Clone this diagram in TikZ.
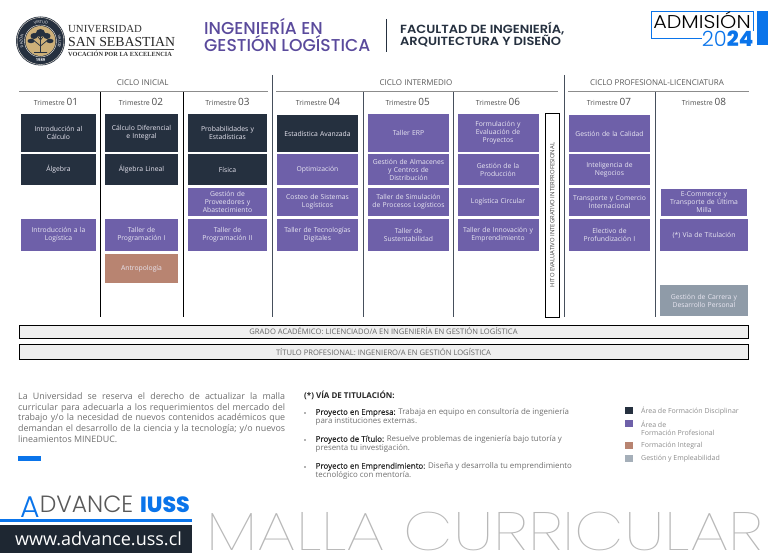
\documentclass[tikz,border=0pt]{standalone}
\usepackage{fontspec}
\setmainfont{Open Sans}
\newfontfamily\thinfont{Poppins Thin}
\newfontfamily\lightfont{Poppins Light}
\newfontfamily\wideLight[FakeStretch=1.12]{Poppins Light}
\newfontfamily\wideThin[FakeStretch=1.19]{Poppins Thin}
\newfontfamily\headfont{Poppins Medium}
\newfontfamily\semifont[FakeStretch=1.1]{Poppins SemiBold}
\newfontfamily\heavyfont{Poppins ExtraBold}
\newfontfamily\medfont[FakeBold=0.3]{Open Sans}
\newfontfamily\uss{Liberation Serif}
\usetikzlibrary{decorations.text}
\definecolor{azulOsc}{HTML}{25303F}
\definecolor{morado}{HTML}{6E60A9}
\definecolor{terra}{HTML}{B88471}
\definecolor{plomo}{HTML}{8F9BA8}
\definecolor{azul}{HTML}{0A74EA}
\definecolor{tituloMor}{HTML}{5A4A9C}
\definecolor{tinta}{HTML}{6F6F6F}
\definecolor{barra}{HTML}{EFEFEF}
\definecolor{oro}{HTML}{CDB079}
\tikzset{
    ramo/.style={inner sep=0pt,align=center,text=white!85!morado,font=\fontsize{6.8}{8}\selectfont},
    disciplinar/.style={ramo,fill=azulOsc},
    profesional/.style={ramo,fill=morado},
    integral/.style={ramo,fill=terra},
    empleo/.style={ramo,fill=plomo},
    c1/.style={text width=75pt},
    c2/.style={text width=73pt},
    c3/.style={text width=79pt},
    c4/.style={text width=81pt},
    c7/.style={text width=81pt},
    c8/.style={text width=88pt},
    f1/.style={minimum height=38pt},
    f2/.style={minimum height=31pt},
    f3/.style={minimum height=28pt},
    f4/.style={minimum height=32pt},
    f5/.style={minimum height=29pt},
    tri/.style={inner sep=0pt,text=black!70,font=\fontsize{7}{8}\selectfont},
    ciclo/.style={inner sep=0pt,text=black!65,font=\fontsize{8}{9}\selectfont},
    grado/.style={draw=black,line width=.8pt,fill=barra,inner sep=0pt,minimum width=729pt,text=black!60,font=\fontsize{7.6}{8}\selectfont},
    cuerpo/.style={inner sep=0pt,anchor=north west,align=left,text=tinta},
    leyenda/.style={inner sep=0pt,anchor=west,align=left,text=black!45,font=\fontsize{7}{8}\selectfont},
    cuadro/.style={inner sep=0pt,minimum width=8pt,minimum height=7pt},
}
\newcommand{\trim}[1]{Trimestre {\fontsize{10}{10}\selectfont #1}}
\begin{document}
\begin{tikzpicture}[x=1pt,y=-1pt]
    \useasboundingbox (0,0) rectangle (768,553);

    % escudo
    \fill[azulOsc] (40.5,41) circle (24.5);
    \draw[white!80!oro,line width=.4pt] (40.5,41) circle (16) (40.5,41) circle (23.5);
    \fill[oro] (40.5,41) circle (15);
    \draw[azulOsc,line width=1.2pt] (40.5,52) -- (40.5,36);
    \draw[azulOsc,line width=.7pt] (40.5,46) -- (32,39) (40.5,46) -- (49,39) (40.5,40) -- (35,33) (40.5,40) -- (46,33) (34,52.5) -- (47,52.5);
    \fill[azulOsc] (40.5,33) ellipse (4.5 and 4) (34,36) ellipse (3.5 and 3) (47,36) ellipse (3.5 and 3) (31,41) ellipse (3.5 and 2.2) (50,41) ellipse (3.5 and 2.2);
    \path[postaction={decorate,decoration={text along path,text align={fit to path stretching spaces},text color=white,text={|\fontsize{3.8}{5}\selectfont|RAZÓN VIRTUD VALOR}}}] (23.6,47.2) arc[start angle=160,end angle=380,radius=18];
    \node[inner sep=0pt,text=white,font=\bfseries\fontsize{4}{5}\selectfont] (anno) at (40.5,60.5) {1989};

    \node[inner sep=0pt,anchor=base west,text=black!80,font=\uss\fontsize{10.8}{11}\selectfont] (unilogo) at (68,33) {UNIVERSIDAD};
    \node[inner sep=0pt,anchor=base west,text=black!85,font=\uss\fontsize{13.8}{14}\selectfont] (sslogo) at (68,46.7) {SAN SEBASTIAN};
    \draw[black!70,line width=.5pt] (68,49.3) -- (174,49.3);
    \node[inner sep=0pt,anchor=west,text=black!80,font=\uss\bfseries\fontsize{6.3}{7}\selectfont] (lema) at (68,54.3) {VOCACIÓN POR LA EXCELENCIA};

    % cabecera
    \node[inner sep=0pt,anchor=west,align=left,text=tituloMor,font=\headfont\fontsize{17.2}{17.7}\selectfont] (carrera) at (204,35) {INGENIERÍA EN\\GESTIÓN LOGÍSTICA};
    \draw[azulOsc,line width=.7pt] (386.7,19) -- (386.7,52.5);
    \node[inner sep=0pt,anchor=west,align=left,text=azulOsc,font=\semifont\fontsize{11.8}{12.7}\selectfont] (facultad) at (400,34.5) {FACULTAD DE INGENIERÍA,\\ARQUITECTURA Y DISEÑO};

    \draw[azul,line width=.6pt] (702,38.5) -- (651,38.5) -- (651,11.5) -- (753.5,11.5) -- (753.5,31);
    \node[inner sep=0pt,anchor=base,text=black,font=\wideLight\fontsize{18.5}{20}\selectfont] (admision) at (702,28.5) {ADMISIÓN};
    \node[inner sep=0pt,anchor=base east,text=azul,font=\fontsize{21}{21}\selectfont] (anio) at (753.5,47) {{\lightfont 20}{\heavyfont 24}};
    \fill[azul] (757,11) rectangle (768,45);

    % ciclos
    \node[ciclo] (inicial) at (142.7,83) {CICLO INICIAL};
    \node[ciclo] (intermedio) at (416,83) {CICLO INTERMEDIO};
    \node[ciclo] (licenciatura) at (657,83) {CICLO PROFESIONAL-LICENCIATURA};
    \draw[black!45,line width=.5pt] (19,91.5) -- (268,91.5);
    \draw[black!45,line width=.5pt] (276,91.5) -- (558,91.5);
    \draw[black!45,line width=.5pt] (568,91.5) -- (749,91.5);

    \draw[black,line width=.8pt] (100.5,92) -- (100.5,317);
    \draw[black,line width=.8pt] (183.5,92) -- (183.5,317);
    \draw[azulOsc!85,line width=.8pt] (272.5,75) -- (272.5,317);
    \draw[azulOsc!85,line width=.8pt] (363.3,92) -- (363.3,317);
    \draw[azulOsc!85,line width=.8pt] (453.3,92) -- (453.3,317);
    \draw[azulOsc!85,line width=.8pt] (564.3,75) -- (564.3,317);
    \draw[azulOsc!85,line width=.8pt] (655.7,92) -- (655.7,317);

    \node[tri] (t1) at (56,102) {\trim{01}};
    \node[tri] (t2) at (141,102) {\trim{02}};
    \node[tri] (t3) at (227.5,102) {\trim{03}};
    \node[tri] (t4) at (318,102) {\trim{04}};
    \node[tri] (t5) at (407.7,102) {\trim{05}};
    \node[tri] (t6) at (498,102) {\trim{06}};
    \node[tri] (t7) at (609,102) {\trim{07}};
    \node[tri] (t8) at (704,102) {\trim{08}};

    % trimestre 1
    \node[disciplinar,c1,f1] (calculo) at (58.5,133) {Introducción al\\Cálculo};
    \node[disciplinar,c1,f2] (algebra) at (58.5,169.5) {Álgebra};
    \node[profesional,c1,f4] (logistica) at (58.5,235) {Introducción a la\\Logística};
    % trimestre 2
    \node[disciplinar,c2,f1] (diferencial) at (141.5,133) {Cálculo Diferencial\\e Integral};
    \node[disciplinar,c2,f2] (lineal) at (141.5,169.5) {Álgebra Lineal};
    \node[profesional,c2,f4] (progI) at (141.5,235) {Taller de\\Programación I};
    \node[integral,c2,f5] (antropologia) at (141.5,268.5) {Antropología};
    % trimestre 3
    \node[disciplinar,c3,f1] (probabilidades) at (227.5,133) {Probabilidades y\\Estadísticas};
    \node[disciplinar,c3,f2] (fisica) at (227.5,169.5) {Física};
    \node[profesional,c3,f3] (proveedores) at (227.5,202) {Gestión de\\Proveedores y\\Abastecimiento};
    \node[profesional,c3,f4] (progII) at (227.5,235) {Taller de\\Programación II};
    % trimestre 4
    \node[disciplinar,c4,minimum height=37pt] (avanzada) at (317.5,133.5) {Estadística Avanzada};
    \node[profesional,c4,f2] (optimizacion) at (317.5,169.5) {Optimización};
    \node[profesional,c4,f3] (costeo) at (317.5,202) {Costeo de Sistemas\\Logísticos};
    \node[profesional,c4,f4] (tecnologias) at (317.5,235) {Taller de Tecnologías\\Digitales};
    % trimestre 5
    \node[profesional,c4,f1] (erp) at (408.5,133) {Taller ERP};
    \node[profesional,c4,f2] (almacenes) at (408.5,169.5) {Gestión de Almacenes\\y Centros de\\Distribución};
    \node[profesional,c4,f3] (simulacion) at (408.5,202) {Taller de Simulación\\de Procesos Logísticos};
    \node[profesional,c4,f4] (sustentabilidad) at (408.5,235) {Taller de\\Sustentabilidad};
    % trimestre 6
    \node[profesional,c4,f1] (formulacion) at (498,133) {Formulación y\\Evaluación de\\Proyectos};
    \node[profesional,c4,f2] (produccion) at (498,169.5) {Gestión de la\\Producción};
    \node[profesional,c4,f3] (circular) at (498,202) {Logística Circular};
    \node[profesional,c4,f4] (innovacion) at (498,235) {Taller de Innovación y\\Emprendimiento};
    % hito
    \node[draw=black,line width=.8pt,inner sep=0pt,rotate=90,text=black!75,font=\fontsize{5.9}{7}\selectfont,minimum width=204pt,minimum height=13.5pt] (hito) at (552.2,215) {HITO EVALUATIVO INTEGRATIVO INTERPROFESIONAL};
    % trimestre 7
    \node[profesional,c7,minimum height=37pt] (calidad) at (609.5,133.5) {Gestión de la Calidad};
    \node[profesional,c7,f2] (inteligencia) at (609.5,169.5) {Inteligencia de\\Negocios};
    \node[profesional,c7,f3] (transporte) at (609.5,202) {Transporte y Comercio\\Internacional};
    \node[profesional,c7,f4] (electivo) at (609.5,235) {Electivo de\\Profundización I};
    % trimestre 8
    \node[profesional,text width=86pt,minimum height=27pt] (ecommerce) at (704,202.5) {E-Commerce y\\Transporte de Última\\Milla};
    \node[profesional,c8,f4] (via) at (704,235) {(*) Vía de Titulación};
    \node[empleo,c8,f2] (carrera2) at (704,300.5) {Gestión de Carrera y\\Desarrollo Personal};

    % grado y titulo
    \node[grado,minimum height=13pt] (grado) at (383.5,331.5) {GRADO ACADÉMICO: LICENCIADO/A EN INGENIERÍA EN GESTIÓN LOGÍSTICA};
    \node[grado,minimum height=15pt] (titulo) at (383.5,351.7) {TÍTULO PROFESIONAL: INGENIERO/A EN GESTIÓN LOGÍSTICA};

    % nota
    \node[cuerpo,align=justify,text width=267pt,font=\fontsize{8.9}{10.7}\selectfont] (nota) at (18,392.5) {La Universidad se reserva el derecho de actualizar la malla\linebreak curricular para adecuarla a los requerimientos del mercado del\linebreak trabajo y/o la necesidad de nuevos contenidos académicos que\linebreak demandan el desarrollo de la ciencia y la tecnología; y/o nuevos\linebreak lineamientos MINEDUC.};
    \fill[azul] (18,456) rectangle (41,461);

    % via de titulacion
    \node[cuerpo,text=black!85,font=\bfseries\fontsize{8}{9}\selectfont] (viatit) at (304,390.5) {(*) VÍA DE TITULACIÓN:};
    \node[cuerpo,font=\fontsize{7.9}{9}\selectfont] (empresa) at (315.5,408.5) {\textcolor{black!85}{\medfont Proyecto en Empresa:} Trabaja en equipo en consultoría de ingeniería\\para instituciones externas.};
    \node[cuerpo,font=\fontsize{7.9}{9}\selectfont] (tesis) at (315.5,435.5) {\textcolor{black!85}{\medfont Proyecto de Título:} Resuelve problemas de ingeniería bajo tutoría y\\presenta tu investigación.};
    \node[cuerpo,font=\fontsize{7.9}{9}\selectfont] (emprende) at (315.5,462.5) {\textcolor{black!85}{\medfont Proyecto en Emprendimiento:} Diseña y desarrolla tu emprendimiento\\tecnológico con mentoría.};
    \fill[black!60] (305,413) circle (.9) (305,440) circle (.9) (305,467) circle (.9);

    % leyenda
    \node[cuadro,fill=azulOsc] (lg1) at (629,410.5) {};
    \node[cuadro,fill=morado] (lg2) at (629,423.5) {};
    \node[cuadro,fill=terra] (lg3) at (629,445.5) {};
    \node[cuadro,fill=plomo!80] (lg4) at (629,458.5) {};
    \node[leyenda] (lt1) at (641,411.5) {Área de Formación Disciplinar};
    \node[leyenda] (lt2) at (641,428) {Área de\\Formación Profesional};
    \node[leyenda] (lt3) at (641,445.5) {Formación Integral};
    \node[leyenda] (lt4) at (641,458.5) {Gestión y Empleabilidad};

    % advance
    \node[inner sep=0pt,anchor=base west,text=black!65,font=\lightfont\fontsize{23.5}{24}\selectfont] (advance) at (20,512) {\raisebox{-5pt}{\fontsize{30}{30}\selectfont\textcolor{azul}{A}}DVANCE};
    \node[inner sep=0pt,anchor=base east,text=azul,font=\heavyfont\fontsize{22}{24}\selectfont] (iuss) at (190,512) {IUSS};
    \fill[azul] (0,519) rectangle (192,522);
    \fill[azulOsc!80!black] (0,525) rectangle (192,553);
    \node[inner sep=0pt,text=white,font=\fontsize{18}{18}\selectfont] (web) at (98.5,538.5) {www.advance.uss.cl};
    \node[inner sep=0pt,anchor=base west,text depth=0pt,text=black!28,font=\wideThin\fontsize{54}{54}\selectfont] (malla) at (206,550) {MALLA CURRICULAR};
\end{tikzpicture}
\end{document}
